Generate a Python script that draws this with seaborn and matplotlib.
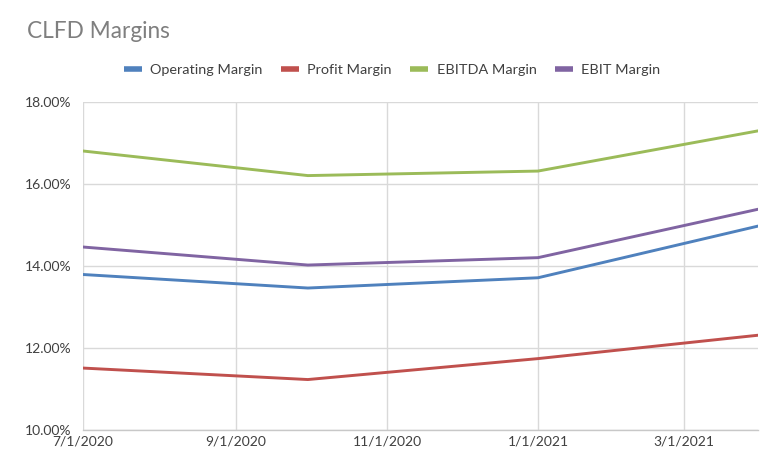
import numpy as np
import pandas as pd
import matplotlib
matplotlib.use("Agg")
import matplotlib.pyplot as plt
from matplotlib.ticker import FuncFormatter
import seaborn as sns

sns.set_theme(style="white")
plt.rcParams['font.family'] = ['Lato', 'DejaVu Sans']

# data
dates = ["2020-07-01", "2020-09-30", "2021-01-01", "2021-03-31"]
operating_margin = [13.79, 13.46, 13.71, 14.97]
profit_margin = [11.51, 11.23, 11.74, 12.31]
ebitda_margin = [16.80, 16.20, 16.31, 17.29]
ebit_margin = [14.46, 14.02, 14.20, 15.38]

series_names = ["Operating Margin", "Profit Margin", "EBITDA Margin", "EBIT Margin"]
colors = ["#4F81BD", "#C0504D", "#9BBB59", "#8064A2"]
tick_dates = ["2020-07-01", "2020-09-01", "2020-11-01", "2021-01-01", "2021-03-01"]
tick_labels = ["7/1/2020", "9/1/2020", "11/1/2020", "1/1/2021", "3/1/2021"]

df = pd.DataFrame({
    "date": pd.to_datetime(dates * 4),
    "value": operating_margin + profit_margin + ebitda_margin + ebit_margin,
    "series": np.repeat(series_names, len(dates)),
})

fig = plt.figure(figsize=(7.84, 4.76), dpi=100)
ax = fig.add_axes([0.1055, 0.0966, 0.8615, 0.6897])

sns.lineplot(data=df, x="date", y="value", hue="series", hue_order=series_names,
             palette=colors, linewidth=2.1, ax=ax, legend=False)

ax.set_xlim(pd.Timestamp(dates[0]), pd.Timestamp(dates[-1]))
ax.set_ylim(10, 18)
ax.set_yticks([10, 12, 14, 16, 18])
ax.yaxis.set_major_formatter(FuncFormatter(lambda v, p: "{:.2f}%".format(v)))
ax.set_xticks(pd.to_datetime(tick_dates))
ax.set_xticklabels(tick_labels)
ax.set_xlabel("")
ax.set_ylabel("")

ax.grid(True, color="#d9d9d9", linewidth=1.0)
ax.set_axisbelow(True)
for side in ["top", "right", "left"]:
    ax.spines[side].set_visible(False)
ax.spines["bottom"].set_color("#c8c8c8")
ax.spines["bottom"].set_linewidth(1.0)
ax.tick_params(axis="both", length=0, labelsize=10, labelcolor="#404040")
ax.tick_params(axis="x", pad=4)
ax.tick_params(axis="y", pad=8)

fig.text(0.034, 0.933, "CLFD Margins", fontsize=16.3, color="#7f7f7f", va="center", ha="left")

handles = [plt.Line2D([0], [0], color=c, linewidth=4, solid_capstyle="butt") for c in colors]
fig.legend(handles, series_names, loc="center", bbox_to_anchor=(0.5, 0.853), ncol=4,
           frameon=False, fontsize=10.4, handlelength=1.25, handletextpad=0.6,
           columnspacing=1.25, labelcolor="#404040")

fig.savefig("out.png", dpi=100)
